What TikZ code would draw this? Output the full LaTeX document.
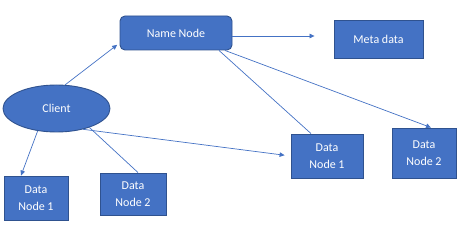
\documentclass[tikz,border=0pt]{standalone}
\usepackage{fontspec}
\setmainfont{Carlito}
\usetikzlibrary{shapes.geometric,arrows.meta,positioning}
\definecolor{officeblue}{RGB}{68,114,196}
\definecolor{officeblueedge}{RGB}{47,82,143}

\begin{document}
\begin{tikzpicture}[x=1pt, y=-1pt,
    box/.style={rectangle, draw=officeblueedge, line width=0.9pt, fill=officeblue,
                text=white, align=center, inner sep=0pt,
                font=\fontsize{12}{17}\selectfont},
    namebox/.style={box, rounded corners=5pt},
    clientshape/.style={box, ellipse},
    link/.style={draw=officeblue, line width=0.7pt},
    arr/.style={link, -{Triangle[length=5pt, width=4.5pt]}}
]
    \useasboundingbox (0,0) rectangle (474,227);
    % hub
    \node[namebox, minimum width=112pt, minimum height=34pt] (nn) at (176,33) {Name Node};
    \node[box, minimum width=89pt, minimum height=38pt] (meta) at (378.5,39) {Meta data};
    \node[clientshape, minimum width=107pt, minimum height=47pt] (client) at (56.5,108.5) {Client};
    % data nodes
    \node[box, minimum width=64pt, minimum height=44pt] (dnl1) at (36,198) {Data\\Node 1};
    \node[box, minimum width=66pt, minimum height=42pt] (dnl2) at (133,194) {Data\\Node 2};
    \node[box, minimum width=72pt, minimum height=44pt] (dnr1) at (327,156) {Data\\Node 1};
    \node[box, minimum width=64pt, minimum height=50pt] (dnr2) at (424,153) {Data\\Node 2};
    % connectors
    \draw[arr, shorten >=3pt] (client.70) -- ([yshift=-10pt]nn.west);
    \draw[arr] ([yshift=-3pt]nn.east) -- ([yshift=3pt, xshift=-19pt]meta.west);
    \draw[link] ([xshift=43pt]nn.south) -- ([xshift=-16pt]dnr1.north);
    \draw[arr] ([xshift=49pt]nn.south) -- ([xshift=7pt]dnr2.north);
    \draw[arr, shorten >=6pt] (client.-38) -- (dnr1.west);
    \draw[link] (client.-30) -- ([xshift=5pt]dnl2.north);
    \draw[arr] (client.-130) -- ([xshift=-15pt]dnl1.north);
\end{tikzpicture}
\end{document}
